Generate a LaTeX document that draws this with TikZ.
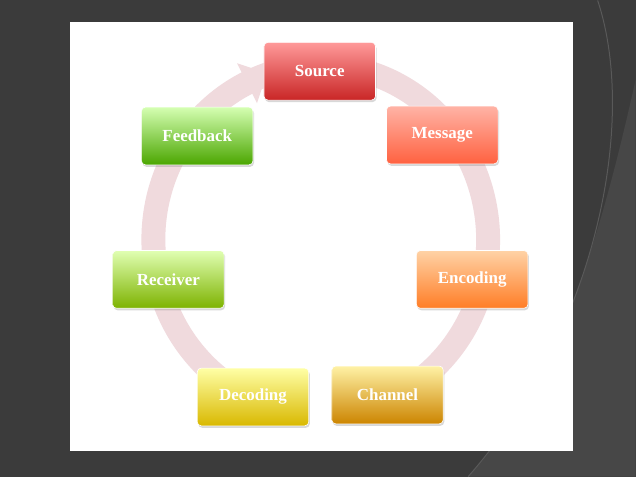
\documentclass[tikz,border=0pt]{standalone}
\usepackage{fontspec}
\setmainfont{Liberation Serif}
\usetikzlibrary{arrows.meta,shadows}
\begin{document}
\begin{tikzpicture}[x=1pt,y=-1pt,
  box/.style={rounded corners=4pt,minimum width=112pt,minimum height=58pt,text=white,
    font=\bfseries\fontsize{17}{19}\selectfont,draw=white,line width=0.6pt,
    drop shadow={shadow xshift=1pt,shadow yshift=-2pt,opacity=0.3}},
  c/.style n args={2}{top color=#1,bottom color=#2}]
\definecolor{ring}{RGB}{240,218,221}
\fill[black!77] (0,0) rectangle (638,478);
\fill[black!72] (638,80) .. controls (600,250) and (560,380) .. (470,478) -- (638,478) -- cycle;
\draw[black!65,line width=1pt] (600,0) .. controls (640,120) and (600,330) .. (470,478);
\useasboundingbox (0,0) rectangle (638,478);
\fill[white] (70,22) rectangle (575,452);
\draw[line width=24pt,color=ring]
  (322,240) ++(78:168 and 175) arc[start angle=78,end angle=-244,x radius=168,y radius=175];
\coordinate (tip) at (268,73);
\fill[ring] (tip) -- (258,103) -- (238,63) -- cycle;
\node[box,c={red!40!white}{red!75!black!85}] (src) at (321,71) {Source};
\node[box,c={orange!30!red!35!white}{orange!35!red!75}] (msg) at (444,135) {Message};
\node[box,c={orange!35!white}{orange!80!red!85}] (enc) at (474,280) {Encoding};
\node[box,c={orange!30!yellow!35!white}{orange!70!yellow!80!black}] (chn) at (389,396) {Channel};
\node[box,c={yellow!35!white}{yellow!70!orange!85!black}] (dec) at (254,398) {Decoding};
\node[box,c={yellow!60!green!30!white}{yellow!70!green!70!black}] (rcv) at (169,280) {Receiver};
\node[box,c={green!55!yellow!30!white}{green!55!yellow!65!black}] (fb) at (198,136) {Feedback};
\end{tikzpicture}
\end{document}
